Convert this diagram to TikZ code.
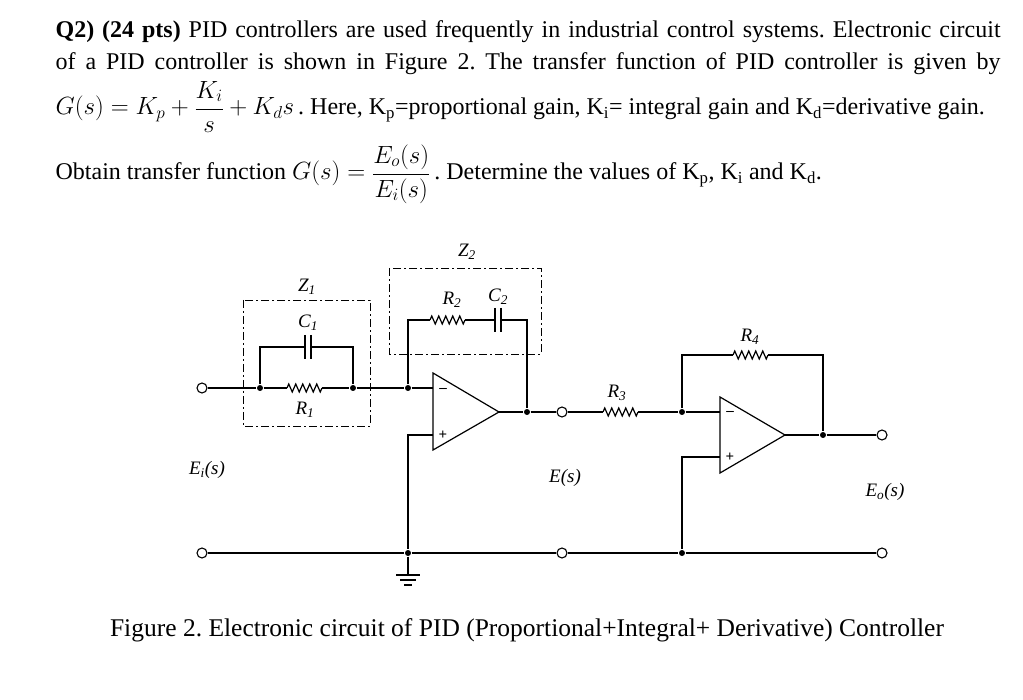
\documentclass[tikz,border=0pt]{standalone}
\usepackage{fontspec}
\setmainfont{Liberation Serif}
\usetikzlibrary{decorations.pathmorphing}
\frenchspacing
\begin{document}
\begin{tikzpicture}[x=1pt,y=-1pt,line width=1.2pt]
	\tikzstyle{term} = [circle,draw=black,fill=white,line width=1.1pt,inner sep=0pt,minimum size=10pt]
	\tikzstyle{dot} = [circle,fill=black,inner sep=0pt,minimum size=6pt]
	\tikzstyle{txt} = [anchor=base west,inner sep=0pt,font=\fontsize{24}{28}\selectfont]
	\tikzstyle{lbl} = [inner sep=0pt,font=\fontsize{19}{22}\selectfont\itshape]
	\tikzstyle{sgn} = [inner sep=0pt,font=\fontsize{15}{16}\selectfont\bfseries]
	\tikzstyle{zbox} = [line width=0.9pt,dash pattern=on 8pt off 3pt on 2pt off 3pt]
	\tikzstyle{res} = [decorate,decoration={zigzag,amplitude=4pt,segment length=7pt}]
	\useasboundingbox (0,0) rectangle (1023,700);
	% question text
	\node[txt](q-1)at (55,38){\makebox[945pt][s]{\textbf{Q2) (24 pts)} PID controllers are used frequently in industrial control systems. Electronic circuit}};
	\node[txt](q-2)at (55,70){\makebox[945pt][s]{of a PID controller is shown in Figure 2. The transfer function of PID controller is given by}};
	\node[txt](q-3)at (55,115){$\displaystyle G(s)=K_p+\frac{K_i}{s}+K_d s$\,. Here, K\textsubscript{p}=proportional gain, K\textsubscript{i}= integral gain and K\textsubscript{d}=derivative gain.};
	\node[txt](q-4)at (55,180){Obtain transfer function $\displaystyle G(s)=\frac{E_o(s)}{E_i(s)}$\,. Determine the values of K\textsubscript{p}, K\textsubscript{i} and K\textsubscript{d}.};
	\node[anchor=base,inner sep=0pt,font=\fontsize{25.5}{28}\selectfont](cap)at (527,636){Figure 2. Electronic circuit of PID (Proportional+Integral+ Derivative) Controller};
	
	% first stage
	\node[term](t-1)at (202,388){};
	\node[term](t-2)at (202,553){};
	\node[term](t-3)at (562,412){};
	\node[term](t-4)at (562,553){};
	\node[term](t-5)at (882,435){};
	\node[term](t-6)at (882,553){};
	\node[dot](n-1)at (260,388){};
	\node[dot](n-2)at (353,388){};
	\node[dot](n-3)at (408,388){};
	\node[dot](n-4)at (527,412){};
	\node[dot](n-5)at (408,553){};
	\node[dot](n-6)at (682,412){};
	\node[dot](n-7)at (823,435){};
	\node[dot](n-8)at (682,553){};
	
	\draw (t-1) -- (n-1) -- (287,388);
	\draw[res] (287,388) -- (322,388);
	\draw (322,388) -- (n-2) -- (n-3) -- (433,388);
	\draw (n-1) -- (260,347) -- (305,347) (311,347) -- (353,347) -- (n-2);
	\draw (305,335) -- (305,359) (311,335) -- (311,359);
	
	% op-amp 1
	\draw (433,373) -- (499,412) -- (433,450) -- cycle;
	\node[sgn](m-1)at (443,390){--};
	\node[sgn](p-1)at (443,435){+};
	\draw (499,412) -- (n-4) -- (t-3);
	\draw (433,435) -- (408,435) -- (n-5);
	\draw (n-3) -- (408,320) -- (430,320);
	\draw[res] (430,320) -- (465,320);
	\draw (465,320) -- (495,320) (501,320) -- (527,320) -- (n-4);
	\draw (495,308) -- (495,332) (501,308) -- (501,332);
	\draw (t-2) -- (n-5) -- (t-4) -- (n-8) -- (t-6);
	\draw (n-5) -- (408,575);
	\draw (396,575) -- (420,575) (400,580) -- (416,580) (404,585) -- (412,585);
	
	% second stage
	\draw (t-3) -- (603,412);
	\draw[res] (603,412) -- (638,412);
	\draw (638,412) -- (n-6) -- (720,412);
	\draw (720,397) -- (785,435) -- (720,473) -- cycle;
	\node[sgn](m-2)at (730,413){--};
	\node[sgn](p-2)at (730,457){+};
	\draw (720,457) -- (682,457) -- (n-8);
	\draw (n-6) -- (682,355) -- (733,355);
	\draw[res] (733,355) -- (768,355);
	\draw (768,355) -- (823,355) -- (n-7);
	\draw (785,435) -- (n-7) -- (t-5);
	
	% impedance boxes
	\draw[zbox] (243,300) rectangle (370,426);
	\draw[zbox] (389,268) rectangle (541,354);
	
	% labels
	\node[lbl](z-1)at (307,287){Z\textsubscript{1}};
	\node[lbl](z-2)at (467,252){Z\textsubscript{2}};
	\node[lbl](c-1)at (308,323){C\textsubscript{1}};
	\node[lbl](r-1)at (305,410){R\textsubscript{1}};
	\node[lbl](r-2)at (452,300){R\textsubscript{2}};
	\node[lbl](c-2)at (498,297){C\textsubscript{2}};
	\node[lbl](r-3)at (617,393){R\textsubscript{3}};
	\node[lbl](r-4)at (750,337){R\textsubscript{4}};
	\node[lbl](e-1)at (207,470){E\textsubscript{i}(s)};
	\node[lbl](e-2)at (565,478){E(s)};
	\node[lbl](e-3)at (885,492){E\textsubscript{o}(s)};
\end{tikzpicture}
\end{document}
